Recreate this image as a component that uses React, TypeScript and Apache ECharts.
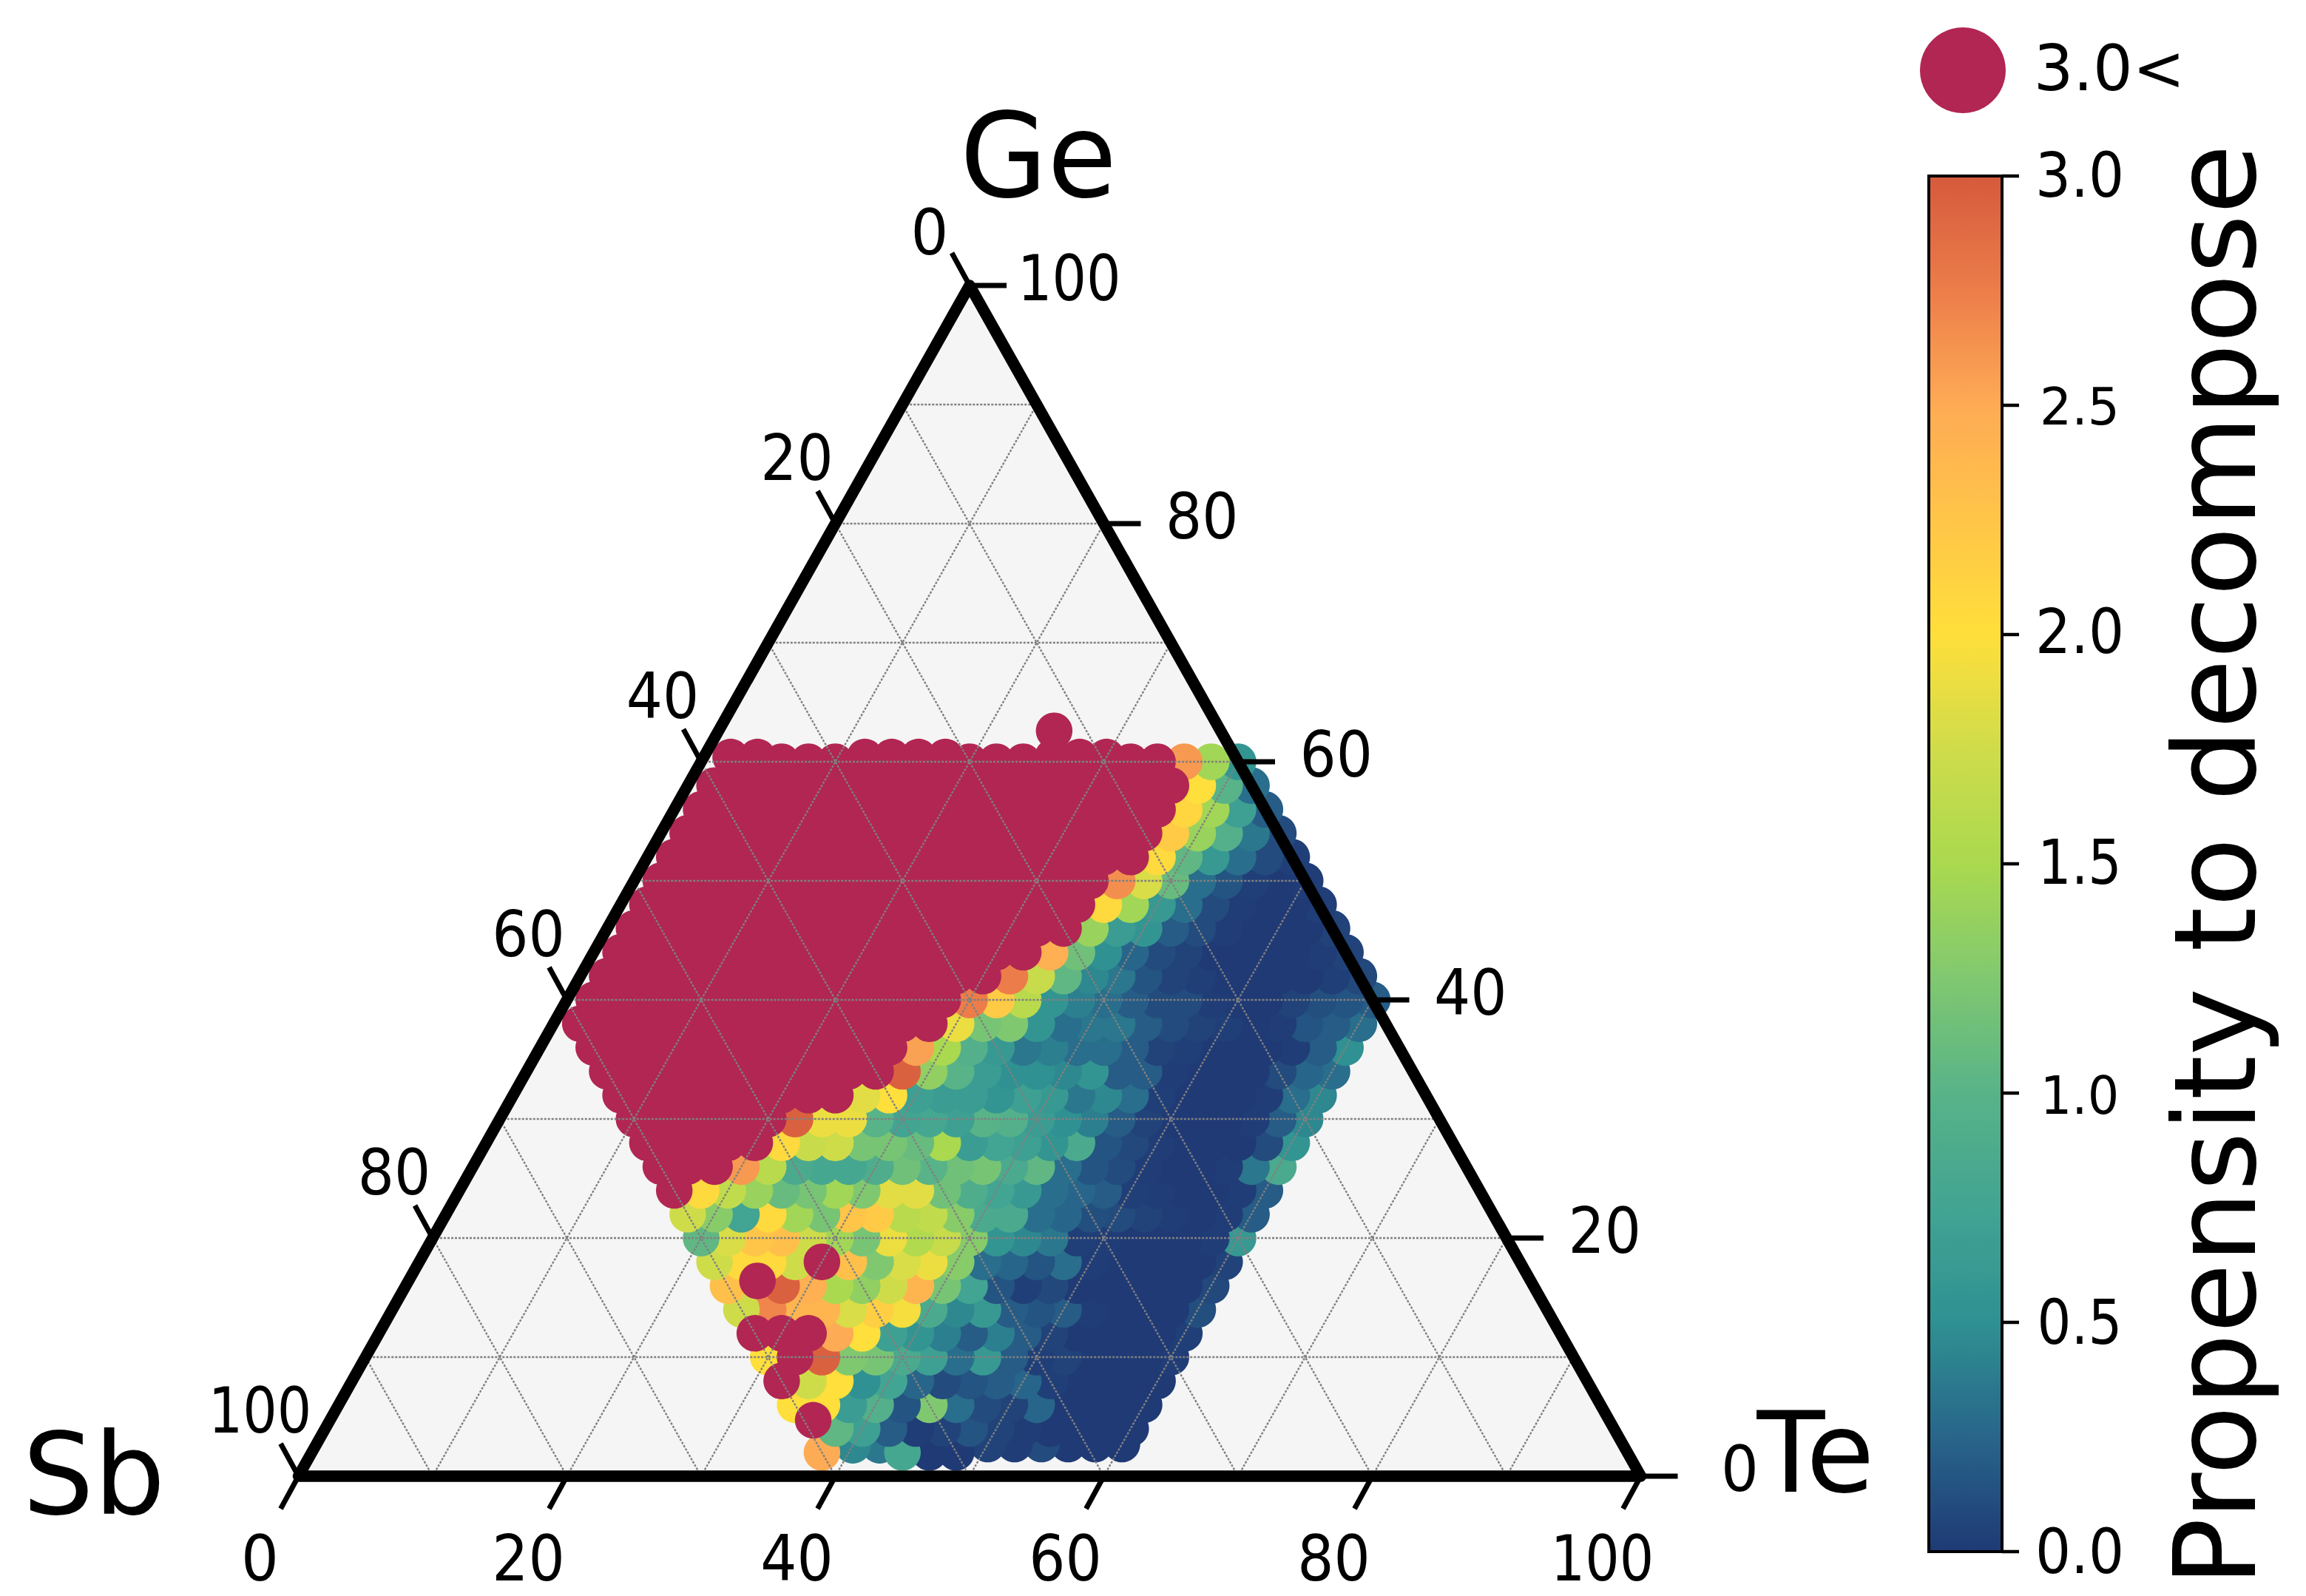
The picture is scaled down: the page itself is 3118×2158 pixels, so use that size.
import React, { useEffect, useRef } from "react";
import * as echarts from "echarts";

const FONT = "DejaVu Sans";
const CRIMSON = "#b12653";

// Ternary rows: ge = Ge at.%, te0 = Te at.% of the first value, values step Te by 2. 4 stands for "3.0<".
const row60a = [4,4];
const row60b = [4,4,4];
const row60c = [4,4,4,4];
const row60d = [4,4,4];
const row60e = [4,4,4];
const row60f = [4,4,2.6,1.45,.55];
const row58 = [4,4,4,4,4,4,4,4,4,4,4,4,4,4,4,4,4,4, 2,1,.3];
const row56 = [4,4,4,4,4,4,4,4,4,4,4,4,4,4,4,4,4,4, 2.1,1.45,.7,.2];
const row54 = [4,4,4,4,4,4,4,4,4,4,4,4,4,4,4,4,4,4, 2.2,1.4,.95,.35,.1];
const row52 = [4,4,4,4,4,4,4,4,4,4,4,4,4,4,4,4,4,4, 2.05,1.05,.6,.3,.1,.03];
const row50 = [4,4,4,4,4,4,4,4,4,4,4,4,4,4,4,4,4, 2.65,1.8,1.1,.3,.15,.03,0,.02];
const row48 = [4,4,4,4,4,4,4,4,4,4,4,4,4,4,4,4,4, 2.05,1.45,.6,.3,.1,.02,0,0,.03];
const row46 = [4,4,4,4,4,4,4,4,4,4,4,4,4,4,4,4,4, 1.4,.65,.55,.2,.1,.02,0,0,0,.05];
const row44 = [4,4,4,4,4,4,4,4,4,4,4,4,4,4,4,4, 2.45,1.15,.5,.25,.1,.05,0,0,0,0,.02,.05];
const row42 = [4,4,4,4,4,4,4,4,4,4,4,4,4,4,4, 2.75,1.7,1.05,.45,.35,.15,.05,.03,0,0,0,0,.03,.08];
const row40 = [4,4,4,4,4,4,4,4,4,4,4,4,4,4, 2.75,2.2,1.6,.55,.4,.3,.2,.1,.1,.02,0,0,.05,.12,.15,.2];
const row38 = [4,4,4,4,4,4,4,4,4,4,4,4,4,4, 1.9,1.2,1.25,.55,.3,.35,.35,.2,.1,.05,.03,0,.02,.15,.2,.3];
const row36 = [4,4,4,4,4,4,4,4,4,4,4,4, 2.55,1.5,.95,.6,.35,.4,.3,.3,.2,.05,.03,0,0,0,.02,.2,.5];
const row34 = [4,4,4,4,4,4,4,4,4,4,4, 2.95,1.35,1,.65,.5,.5,.45,.55,.2,.2,.02,0,0,0,.1,.25,.3];
const row32 = [4,4,4,4,4,4,4,4,4, 1.85,2,.7,.65,.65,.55,.7,.6,.35,.45,.3,.03,0,0,0,.02,.3,.45];
const row30 = [4,4,4,4,4,4, 2.95,1.9,1.9,1,.75,.8,.7,1,.95,.65,.5,.4,.2,.05,0,0,0,.02,.2,.45];
const row28 = [4,4,4,4,4, 2.05,1.7,1.75,1.2,1.2,1.1,1.5,.65,.75,.7,.55,.85,.15,.08,.02,0,0,0,.1,.55];
const row26 = [4,4,4, 2.6,1.6,.85,.8,.8,.9,1.15,1,1.15,1.2,.85,1.05,.3,.15,.1,.02,0,0,.02,.35,.85];
const row24 = [4, 2.05,1.65,1.4,1.1,1.2,1.45,1.25,1.85,1.85,1.15,.9,.75,.6,.3,.25,.2,.03,.02,0,0,.02,.2];
const row22 = [1.75,1.3,.75,2.05,1.45,1.2,2.25,2.2,1.6,1.65,1.3,.85,.85,.3,.25,.12,.1,.05,.02,0,.02,.2];
const row20 = [1.05,1.8,2.25,2.3,1.75,1.45,1.2,1.9,1.55,1.7,1.3,.55,.45,.35,.03,.02,0,0,0,.02,.6];
const row18 = [1.75,2.05,2.05,1.75,4,2.3,1.25,1.8,1.9,1.3,.3,.25,.15,.3,.02,0,0,0,0,.05];
const row16a = [2.3];
const row16b = [4];
const row16c = [2.95,2.45,1.5,1.35,1.75,2.4,1.2,.75,.15,.03,.08,0,0,0,0,0,.08];
const row14 = [1.75,2.7,2.4,2.4,1.8,2.15,1.95,.85,.45,.6,.2,.15,.2,.02,0,0,0,.12];
const row12 = [4,4,4,2.5,2,.7,.55,.4,.2,.4,.2,.05,0,0,0,0,.03];
const row10 = [2,4,2.95,1.25,1.2,.85,.7,.3,.6,.2,.03,.05,0,0,0,.02];
const row8 = [4,1.75,2,.5,.75,.25,.1,.15,.2,.25,.03,0,0,0,0];
const row6 = [2,2,.65,.95,.15,1.25,.3,.1,.05,.25,0,0,0,0];
const row4a = [4];
const row4b = [1.05,.7,.2,.02,.05,.15,.05,.02,0,0,0,0];
const row2a = [2.5];
const row2b = [.8,0,0];
const row3a = [.45,.35];
const row3b = [.05,.02,.1,0,0,0];
const rowTop = [4];

// Listed from the top of the triangle down: [Ge, first Te, values]
const rows: [number, number, number[]][] = [
  [62.6, 25, rowTop],
  [60.4, 2, row60a], [60, 6, row60b], [60.4, 12, row60c], [60, 20, row60d], [60.4, 26, row60e], [60, 32, row60f],
  [58, 2, row58], [56, 2, row56], [54, 2, row54], [52, 2, row52],
  [50, 2, row50], [48, 2, row48], [46, 2, row46], [44, 2, row44], [42, 2, row42],
  [40, 2, row40], [38, 2, row38], [36, 4, row36], [34, 6, row34], [32, 8, row32],
  [30, 10, row30], [28, 12, row28], [26, 14, row26], [24, 16, row24], [22, 18, row22],
  [20, 20, row20], [18, 22, row18], [16, 24, row16a], [16.4, 26, row16b], [16, 28, row16c], [14, 26, row14], [12, 28, row12],
  [10, 30, row10], [8, 32, row8], [6, 34, row6], [4.7, 36, row4a], [4, 38, row4b],
  [2, 38, row2a], [2, 44, row2b], [2.6, 40, row3a], [2.7, 50, row3b],
];

const gridLevels = [10, 20, 30, 40, 50, 60, 70, 80, 90];
const axisTicks = [0, 20, 40, 60, 80, 100];
const triangle = [[0, 0], [100, 0], [50, 100]];
const colorStops = ["#1f3a75", "#28658a", "#2f9192", "#42a492", "#58b388", "#80c870", "#aad94f", "#cfdc4a", "#ffdf3b", "#ffc548", "#feab55", "#ec7d4a", "#d55a3c"];
const colorbarTicks = [0, 0.5, 1, 1.5, 2, 2.5, 3];
const colorbarLabels = ["0.0", "0.5", "1.0", "1.5", "2.0", "2.5", "3.0"];
const colorbarSizes = [84, 84, 72, 84, 84, 70, 84];
const colorbarScales = [0.9, 0.86, 0.93, 0.85, 0.9, 0.97, 0.9];
const colorbarDy = [0, 0, 3, -2, -4, 2, -1];

const points: number[][] = [];
const crimson: number[][] = [];
for (let r = rows.length - 1; r >= 0; r--) {
  const [ge, te0, vals] = rows[r];
  for (let i = vals.length - 1; i >= 0; i--) {
    const x = te0 + i * 2 + ge / 2;
    if (vals[i] > 3) crimson.push([x, ge, vals[i]]);
    else points.push([x, ge, vals[i]]);
  }
}

const gridSegments: number[][] = [];
gridLevels.forEach((l) => {
  gridSegments.push([l / 2, l, 100 - l / 2, l]);
  gridSegments.push([l, 0, l + (100 - l) / 2, 100 - l]);
  gridSegments.push([100 - l, 0, (100 - l) / 2, 100 - l]);
});

// [x, y, dx px, dy px]
const tickSegments: number[][] = [];
axisTicks.forEach((t) => {
  tickSegments.push([t, 0, -24, 44]);
  tickSegments.push([(100 - t) / 2, 100 - t, -24, -44]);
  tickSegments.push([100 - t / 2, t, 50, 0]);
});

const tickLabels: { x: number; y: number; dx: number; dy: number; text: string }[] = [];
axisTicks.forEach((t) => {
  tickLabels.push({ x: t, y: 0, dx: -52, dy: 111, text: String(t) });
  tickLabels.push({ x: (100 - t) / 2, y: 100 - t, dx: t === 0 ? -54 : -52, dy: t === 0 ? -72 : -89, text: String(t) });
  const right = t === 0 ? 112 : t === 100 ? 69 : 89;
  tickLabels.push({ x: 100 - t / 2, y: t, dx: right + (String(t).length * 0.636 * 86 * 0.8) / 2, dy: -10, text: String(t) });
});

const scaleFor = (s: string) => (s.length === 1 ? 0.93 : s.length === 2 ? 0.9 : 0.85);

const textStyle = (text: string, fontSize: number) => ({
  text,
  fontFamily: FONT,
  fontSize,
  fill: "#000",
  align: "center",
  verticalAlign: "middle",
  textAlign: "center",
  textVerticalAlign: "middle",
});

function buildOption() {
  const base = { type: "custom", coordinateSystem: "cartesian2d", silent: true, clip: false, animation: false };
  return {
    animation: false,
    backgroundColor: "#fff",
    grid: [
      { left: 403.5, top: 386, width: 1815, height: 1610 },
      { left: 2608, top: 238, width: 99, height: 1860 },
    ],
    xAxis: [
      { type: "value", min: 0, max: 100, show: false, gridIndex: 0 },
      { type: "value", min: 0, max: 1, show: false, gridIndex: 1 },
    ],
    yAxis: [
      { type: "value", min: 0, max: 100, show: false, gridIndex: 0 },
      { type: "value", min: 0, max: 3, show: false, gridIndex: 1 },
    ],
    visualMap: {
      type: "continuous",
      min: 0,
      max: 3,
      dimension: 2,
      seriesIndex: 1,
      left: 2608,
      top: 238,
      padding: 0,
      itemWidth: 99,
      itemHeight: 1860,
      calculable: false,
      hoverLink: false,
      text: ["", ""],
      showLabel: false,
      inRange: { color: colorStops },
    },
    series: [
      {
        ...base,
        z: 1,
        data: [[0, 0]],
        renderItem: (_p: any, api: any) => ({
          type: "polygon",
          shape: { points: triangle.map((c) => api.coord(c)) },
          style: { fill: "#f5f5f5" },
        }),
      },
      {
        type: "scatter",
        z: 2,
        silent: true,
        clip: false,
        symbol: "circle",
        symbolSize: 49.5,
        itemStyle: { opacity: 1 },
        data: points,
      },
      {
        type: "scatter",
        z: 3,
        silent: true,
        clip: false,
        symbol: "circle",
        symbolSize: 49.5,
        itemStyle: { color: CRIMSON, opacity: 1 },
        data: crimson,
      },
      {
        ...base,
        z: 4,
        data: gridSegments,
        encode: { x: [0, 2], y: [1, 3] },
        renderItem: (_p: any, api: any) => {
          const a = api.coord([api.value(0), api.value(1)]);
          const b = api.coord([api.value(2), api.value(3)]);
          return {
            type: "line",
            shape: { x1: a[0], y1: a[1], x2: b[0], y2: b[1] },
            style: { stroke: "#808080", lineWidth: 2.4, lineDash: [3, 2] },
          };
        },
      },
      {
        ...base,
        z: 5,
        data: tickSegments,
        encode: { x: 0, y: 1 },
        renderItem: (_p: any, api: any) => {
          const a = api.coord([api.value(0), api.value(1)]);
          return {
            type: "line",
            shape: { x1: a[0], y1: a[1], x2: a[0] + api.value(2), y2: a[1] + api.value(3) },
            style: { stroke: "#000", lineWidth: 7 },
          };
        },
      },
      {
        ...base,
        z: 6,
        data: [[0, 0]],
        renderItem: (_p: any, api: any) => ({
          type: "polygon",
          shape: { points: triangle.map((c) => api.coord(c)) },
          style: { fill: "none", stroke: "#000", lineWidth: 15.5, lineJoin: "round" },
        }),
      },
      {
        ...base,
        z: 7,
        data: tickLabels.map((l) => [l.x, l.y]),
        encode: { x: 0, y: 1 },
        renderItem: (p: any, api: any) => {
          const l = tickLabels[p.dataIndex];
          const a = api.coord([l.x, l.y]);
          return {
            type: "text",
            x: a[0] + l.dx,
            y: a[1] + l.dy,
            scaleX: scaleFor(l.text),
            style: textStyle(l.text, 86),
          };
        },
      },
      {
        ...base,
        z: 8,
        xAxisIndex: 1,
        yAxisIndex: 1,
        data: [[0, 0]],
        renderItem: (_p: any, api: any) => ({
          type: "polygon",
          shape: { points: [[0, 0], [1, 0], [1, 3], [0, 3]].map((c) => api.coord(c)) },
          style: { fill: "none", stroke: "#000", lineWidth: 4 },
        }),
      },
      {
        ...base,
        z: 8,
        xAxisIndex: 1,
        yAxisIndex: 1,
        data: colorbarTicks.map((v) => [1, v]),
        encode: { x: 0, y: 1 },
        renderItem: (_p: any, api: any) => {
          const a = api.coord([api.value(0), api.value(1)]);
          return {
            type: "line",
            shape: { x1: a[0], y1: a[1], x2: a[0] + 23, y2: a[1] },
            style: { stroke: "#000", lineWidth: 4.5 },
          };
        },
      },
      {
        ...base,
        z: 8,
        xAxisIndex: 1,
        yAxisIndex: 1,
        data: colorbarTicks.map((v) => [1, v]),
        encode: { x: 0, y: 1 },
        renderItem: (p: any, api: any) => {
          const i = p.dataIndex;
          const a = api.coord([api.value(0), api.value(1)]);
          return {
            type: "text",
            x: a[0] + 105,
            y: a[1] + colorbarDy[i],
            scaleX: colorbarScales[i],
            style: textStyle(colorbarLabels[i], colorbarSizes[i]),
          };
        },
      },
    ],
    graphic: [
      { type: "circle", shape: { cx: 2654, cy: 95, r: 58 }, style: { fill: CRIMSON } },
      { type: "text", x: 2852, y: 92, scaleX: 0.98, style: textStyle("3.0<", 86) },
      { type: "text", x: 1404, y: 212, scaleX: 0.965, style: textStyle("Ge", 158) },
      { type: "text", x: 127, y: 1994, scaleX: 0.987, style: textStyle("Sb", 154) },
      { type: "text", x: 2455, y: 1965, scaleX: 0.99, style: textStyle("Te", 152) },
      { type: "text", x: 2995, y: 1170, rotation: Math.PI / 2, style: textStyle("Propensity to decompose", 154) },
    ],
  };
}

export default function App() {
  const ref = useRef<HTMLDivElement>(null);
  useEffect(() => {
    const chart = echarts.init(ref.current!, undefined, { renderer: "svg", width: 3118, height: 2158 });
    chart.setOption(buildOption() as any);
    return () => chart.dispose();
  }, []);
  return <div ref={ref} style={{ position: "fixed", left: 0, top: 0, width: 3118, height: 2158, background: "#fff" }} />;
}
